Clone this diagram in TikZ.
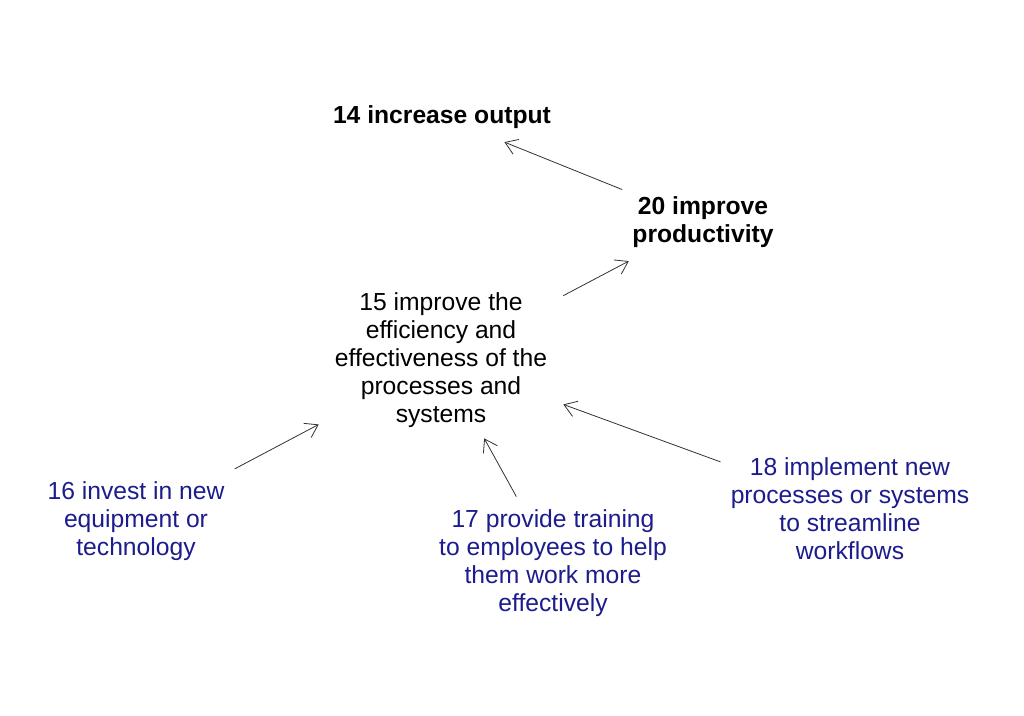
\documentclass[tikz,border=0pt]{standalone}
\usepackage{fontspec}
\setmainfont{Liberation Sans}
\usetikzlibrary{arrows.meta}
\definecolor{navy}{RGB}{28,28,140}
\begin{document}
\begin{tikzpicture}[x=0.75pt,y=-0.75pt,
  lbl/.style={align=center,font=\fontsize{18.5}{21}\selectfont,inner xsep=7.5pt,inner ysep=9.5pt},
  goal/.style={lbl,font=\fontsize{18.5}{21}\selectfont\bfseries,text=black,inner ysep=10pt},
  mid/.style={lbl,text=black,inner xsep=12pt,inner ysep=8pt},
  opt/.style={lbl,text=navy},
  conn/.style={draw=black!80,line width=0.6pt,-{Straight Barb[length=9pt,width=12pt]}}]
\useasboundingbox (0,0) rectangle (1024,715);
\fill[white] (0,0) rectangle (1024,715);
\node[goal] (n14) at (442,117) {14 increase output};
\node[goal] (n20) at (703,222) {20 improve\\productivity};
\node[mid] (n15) at (441,360) {15 improve the\\efficiency and\\effectiveness of the\\processes and\\systems};
\node[opt] (n16) at (136,521) {16 invest in new\\equipment or\\technology};
\node[opt] (n17) at (553,563) {17 provide training\\to employees to help\\them work more\\effectively};
\node[opt] (n18) at (850,509) {18 implement new\\processes or systems\\to streamline\\workflows};
\draw[conn] (n20) -- (n14);
\draw[conn] (n15) -- (n20);
\draw[conn] (n16) -- (n15);
\draw[conn] (n17) -- (n15);
\draw[conn] (n18) -- (n15);
\end{tikzpicture}
\end{document}
